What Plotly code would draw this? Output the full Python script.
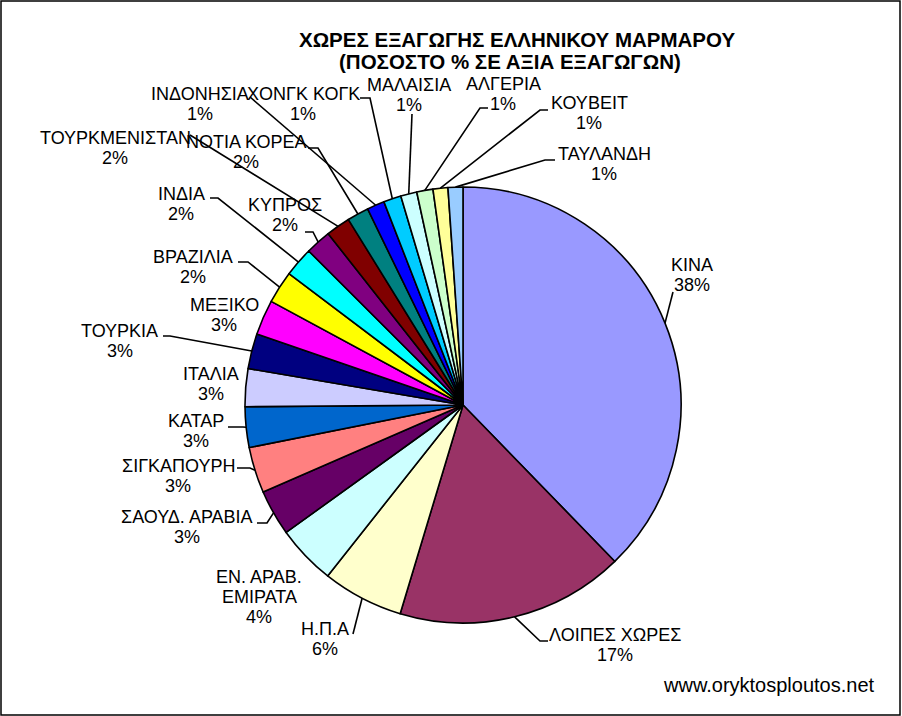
import math
import plotly.graph_objects as go

# ---- data ----
countries = ["ΚΙΝΑ", "ΛΟΙΠΕΣ ΧΩΡΕΣ", "Η.Π.Α", "ΕΝ. ΑΡΑΒ.<br>ΕΜΙΡΑΤΑ", "ΣΑΟΥΔ. ΑΡΑΒΙΑ",
             "ΣΙΓΚΑΠΟΥΡΗ", "ΚΑΤΑΡ", "ΙΤΑΛΙΑ", "ΤΟΥΡΚΙΑ", "ΜΕΞΙΚΟ", "ΒΡΑΖΙΛΙΑ", "ΙΝΔΙΑ",
             "ΚΥΠΡΟΣ", "ΤΟΥΡΚΜΕΝΙΣΤΑΝ", "ΝΟΤΙΑ ΚΟΡΕΑ", "ΙΝΔΟΝΗΣΙΑ", "ΧΟΝΓΚ ΚΟΓΚ",
             "ΜΑΛΑΙΣΙΑ", "ΑΛΓΕΡΙΑ", "ΚΟΥΒΕΙΤ", "ΤΑΥΛΑΝΔΗ"]
shares = [37.7, 16.9, 6.0, 4.4, 3.4, 3.4, 3.0, 2.8, 2.6, 2.6, 2.4, 2.2,
          1.9, 1.8, 1.6, 1.3, 1.3, 1.2, 1.2, 1.1, 1.1]
pct_labels = ["38%", "17%", "6%", "4%", "3%", "3%", "3%", "3%", "3%", "3%", "2%", "2%",
              "2%", "2%", "2%", "1%", "1%", "1%", "1%", "1%", "1%"]
title_lines = ["ΧΩΡΕΣ ΕΞΑΓΩΓΗΣ ΕΛΛΗΝΙΚΟΥ ΜΑΡΜΑΡΟΥ", "(ΠΟΣΟΣΤΟ % ΣΕ ΑΞΙΑ ΕΞΑΓΩΓΩΝ)"]
source_text = "www.oryktosploutos.net"

# ---- style / layout ----
colors = ["#9999FF", "#993366", "#FFFFCC", "#CCFFFF", "#660066", "#FF8080", "#0066CC",
          "#CCCCFF", "#000080", "#FF00FF", "#FFFF00", "#00FFFF", "#800080", "#800000",
          "#008080", "#0000FF", "#00CCFF", "#CCFFFF", "#CCFFCC", "#FFFF99", "#99CCFF"]

W, H = 902, 716
CX, CY, R = 463, 405, 218  # pie centre & radius in pixels
LINE_GAP = 20              # vertical gap between label lines (px)

# label placement (pixel positions of text centres) and leader-line anchor points
label_pos = [(692, 275), (615, 645), (325, 639), (259, 597), (187, 527),
             (178, 476), (196, 431), (211, 384), (120, 341), (224, 315),
             (193, 267), (181, 204), (285, 215), (115, 148), (246, 152),
             (200, 104), (303, 104), (409, 95), (503, 94), (589, 113), (604, 164)]
leader = [((673, 292), None), ((548, 641), (540, 641)), ((353, 634), None), None,
          ((257, 523), (267, 523)), ((237, 468), (250, 468)), ((228, 427), (243, 427)),
          None, ((163, 336), (170, 336)), None, ((238, 262), (248, 262)),
          ((210, 198), (218, 198)), ((305, 232), (313, 232)), ((190, 135), None),
          ((308, 148), (318, 148)), ((250, 97), None), ((360, 98), (370, 98)),
          ((412, 114), None), ((488, 108), (480, 108)), ((548, 110), (540, 110)),
          ((555, 160), (545, 160))]

FONT = "Liberation Sans, Arial, sans-serif"


def px(x):
    return x / W


def py(y):
    return 1 - y / H


fig = go.Figure(go.Pie(
    labels=[c.replace("<br>", " ") for c in countries],
    values=shares,
    sort=False,
    direction="clockwise",
    rotation=0,
    textinfo="none",
    hoverinfo="label+percent",
    marker=dict(colors=colors, line=dict(color="black", width=1.6)),
    domain=dict(x=[px(CX - R), px(CX + R)], y=[py(CY + R), py(CY - R)]),
    showlegend=False,
))

total = sum(shares)
annotations = []
shapes = []
cum = 0.0
for i, v in enumerate(shares):
    mid = (cum + v / 2) / total * 2 * math.pi
    cum += v
    ex = CX + R * math.sin(mid)
    ey = CY - R * math.cos(mid)
    tx, ty = label_pos[i]
    lines = countries[i].split("<br>") + [pct_labels[i]]
    n = len(lines)
    for k, line in enumerate(lines):
        ly = ty + (k - (n - 1) / 2) * LINE_GAP
        annotations.append(dict(
            x=px(tx), y=py(ly), xref="paper", yref="paper",
            text=line, showarrow=False, borderpad=0,
            xanchor="center", yanchor="middle", align="center",
            font=dict(family=FONT, size=18, color="black")))
    if leader[i] is not None:
        (sx, sy), elbow = leader[i]
        pts = [(sx, sy)]
        if elbow is not None:
            pts.append(elbow)
        pts.append((ex, ey))
        path = "M " + " L ".join(f"{px(a):.5f},{py(b):.5f}" for a, b in pts)
        shapes.append(dict(type="path", path=path, xref="paper", yref="paper",
                           line=dict(color="black", width=1.6)))

for (tx, ty), line in zip([(517, 39), (510, 62)], title_lines):
    annotations.append(dict(
        x=px(tx), y=py(ty), xref="paper", yref="paper",
        text=f"<b>{line}</b>", showarrow=False, xanchor="center", yanchor="middle",
        borderpad=0, font=dict(family=FONT, size=20.5, color="black")))
annotations.append(dict(
    x=px(877), y=py(685), xref="paper", yref="paper",
    text=source_text, showarrow=False, xanchor="right", yanchor="middle",
    font=dict(family=FONT, size=20, color="black")))

shapes.append(dict(type="rect", xref="paper", yref="paper",
                   x0=px(1), x1=px(900), y0=py(715), y1=py(1),
                   line=dict(color="black", width=1.5)))

fig.update_layout(
    width=W, height=H,
    margin=dict(l=0, r=0, t=0, b=0),
    paper_bgcolor="white", plot_bgcolor="white",
    annotations=annotations, shapes=shapes,
)

fig.write_html("out.html", config={"displayModeBar": False},
               post_script="document.body.style.margin='0';document.body.style.overflow='hidden';")
